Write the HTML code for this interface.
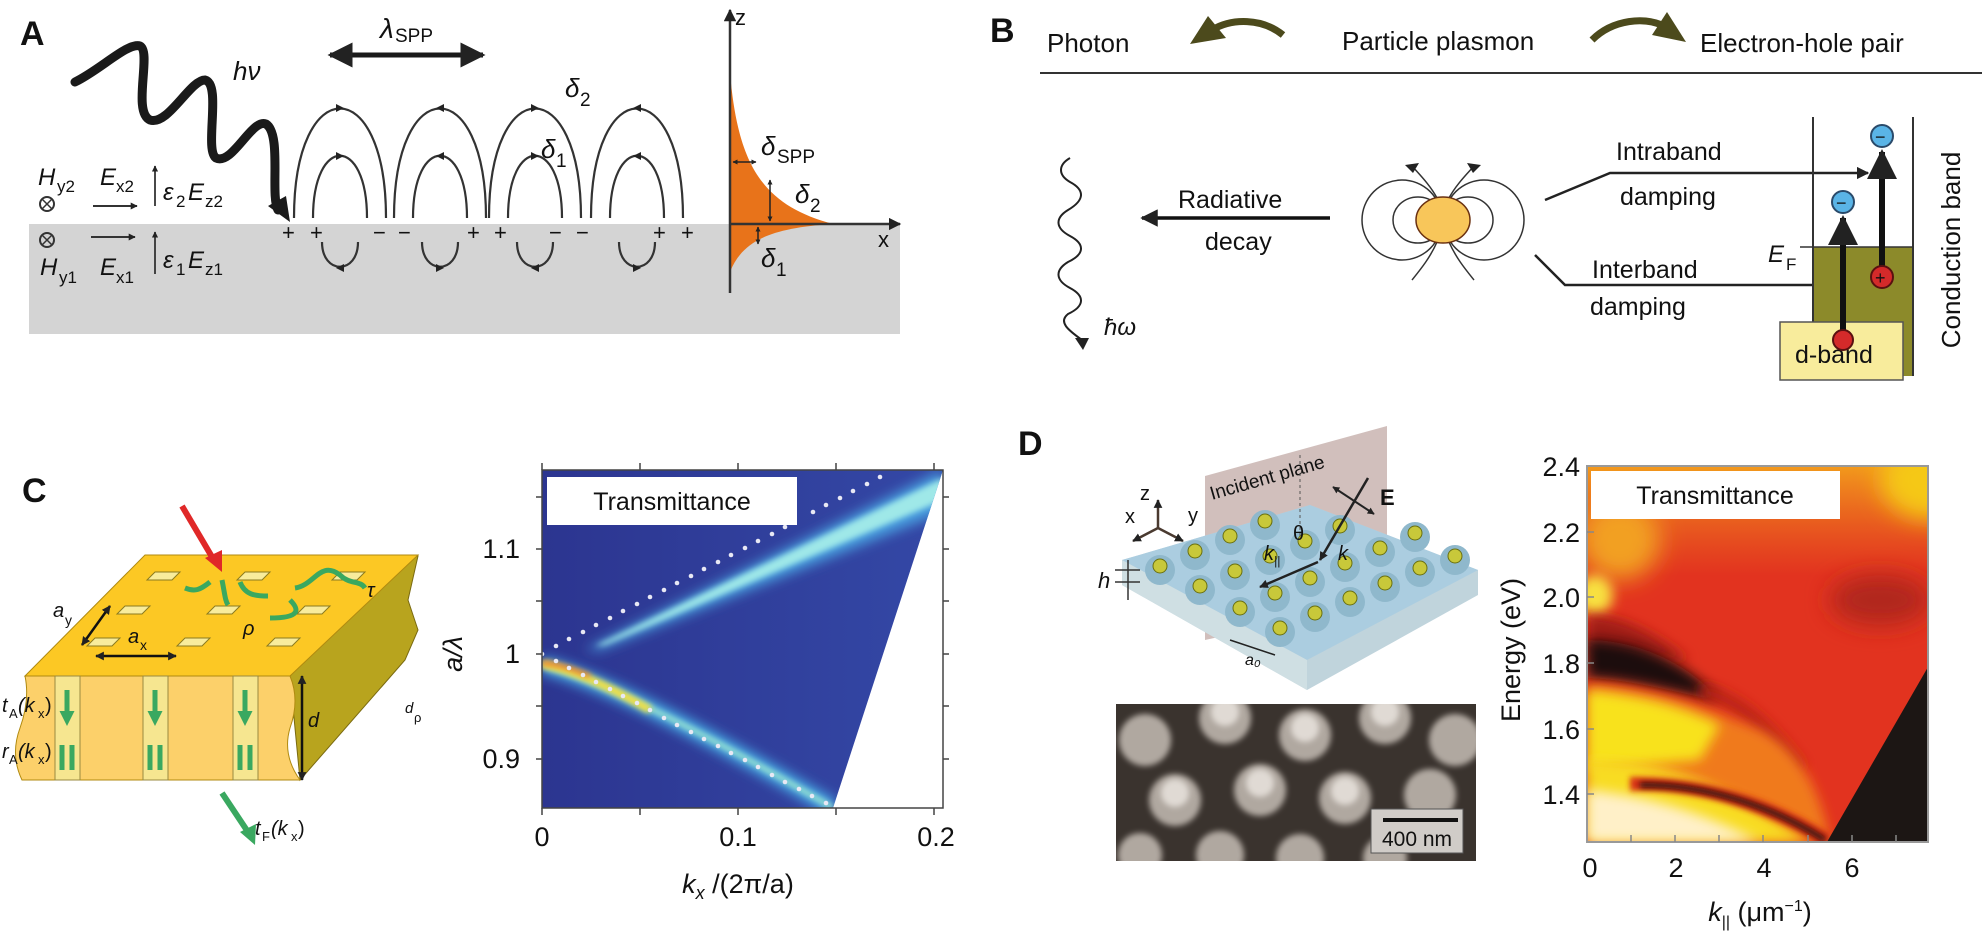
<!DOCTYPE html>
<html><head><meta charset="utf-8"><style>
html,body{margin:0;padding:0;background:#fff}
svg{display:block}
text{font-family:"Liberation Sans",sans-serif;fill:#111}
.it{font-style:italic}
</style></head><body>
<svg width="1985" height="937" viewBox="0 0 1985 937" xmlns="http://www.w3.org/2000/svg">
<defs>
<marker id="ah" viewBox="0 0 10 10" refX="9" refY="5" markerWidth="5" markerHeight="5" orient="auto-start-reverse"><path d="M0,0L10,5L0,10z" fill="#222"/></marker>
<marker id="ahs" viewBox="0 0 10 10" refX="9" refY="5" markerWidth="3.5" markerHeight="3.5" orient="auto-start-reverse"><path d="M0,0L10,5L0,10z" fill="#222"/></marker>
<marker id="ahg" viewBox="0 0 10 10" refX="6" refY="5" markerWidth="3" markerHeight="3" orient="auto"><path d="M0,0L10,5L0,10z" fill="#3aa860"/></marker>
<filter id="b3" x="-50%" y="-50%" width="200%" height="200%"><feGaussianBlur stdDeviation="3"/></filter>
<filter id="b6" x="-50%" y="-50%" width="200%" height="200%"><feGaussianBlur stdDeviation="6"/></filter>
<filter id="b12" x="-100%" y="-100%" width="300%" height="300%"><feGaussianBlur stdDeviation="12"/></filter>
<clipPath id="cc"><polygon points="542,470 943,470 833,808 542,808"/></clipPath>
<clipPath id="cd"><rect x="1587" y="466" width="341" height="376"/></clipPath>
<clipPath id="csem"><rect x="1116" y="704" width="360" height="157"/></clipPath>
<linearGradient id="cbg" x1="0" y1="0" x2="1" y2="0"><stop offset="0" stop-color="#2c3590"/><stop offset="1" stop-color="#3448a6"/></linearGradient>
<linearGradient id="dtop" x1="0" y1="0" x2="0" y2="1"><stop offset="0" stop-color="#f29a1c"/><stop offset="1" stop-color="#ee7a20" stop-opacity="0"/></linearGradient>
</defs>

<!-- ===== Panel A ===== -->
<text x="20" y="45" font-size="34" font-weight="bold">A</text>
<rect x="29" y="224" width="871" height="110" fill="#d4d4d4"/>
<path d="M75,82 C100,70 128,42 140,46 C152,52 132,112 150,120 C168,126 190,80 205,80 C222,84 204,150 216,158 C232,166 252,118 266,124 C282,134 270,195 278,210" fill="none" stroke="#1a1a1a" stroke-width="9" stroke-linecap="round"/>
<path d="M268,206 L290,222 L286,196 z" fill="#1a1a1a"/>
<text x="233" y="80" font-size="26" class="it">hν</text>
<text x="380" y="38" font-size="28" class="it">λ</text><text x="395" y="42" font-size="19">SPP</text>
<line x1="330" y1="55" x2="483" y2="55" stroke="#1a1a1a" stroke-width="5" marker-start="url(#ah)" marker-end="url(#ah)"/>
<g fill="none" stroke="#333" stroke-width="2.2">
<path d="M294,218 C294,72 386,72 386,218"/><path d="M313,218 C313,135 367,135 367,218"/><path d="M322,242 C322,275 358,275 358,242"/>
<path d="M394,218 C394,72 486,72 486,218"/><path d="M413,218 C413,135 467,135 467,218"/><path d="M422,242 C422,275 458,275 458,242"/>
<path d="M489,218 C489,72 581,72 581,218"/><path d="M508,218 C508,135 562,135 562,218"/><path d="M517,242 C517,275 553,275 553,242"/>
<path d="M591,218 C591,72 683,72 683,218"/><path d="M610,218 C610,135 664,135 664,218"/><path d="M619,242 C619,275 655,275 655,242"/>
</g>
<g fill="#222">
<path d="M336,104 l8,4 l-8,4z"/><path d="M336,152 l8,4 l-8,4z"/><path d="M344,264 l-8,4 l8,4z"/>
<path d="M444,104 l-8,4 l8,4z"/><path d="M444,152 l-8,4 l8,4z"/><path d="M436,264 l8,4 l-8,4z"/>
<path d="M531,104 l8,4 l-8,4z"/><path d="M531,152 l8,4 l-8,4z"/><path d="M539,264 l-8,4 l8,4z"/>
<path d="M641,104 l-8,4 l8,4z"/><path d="M641,152 l-8,4 l8,4z"/><path d="M633,264 l8,4 l-8,4z"/>
</g>
<g font-size="22"><text x="282" y="240">+</text><text x="310" y="240">+</text><text x="373" y="240">−</text><text x="398" y="240">−</text><text x="467" y="240">+</text><text x="494" y="240">+</text><text x="549" y="240">−</text><text x="576" y="240">−</text><text x="653" y="240">+</text><text x="681" y="240">+</text></g>
<text x="565" y="97" font-size="26" class="it">δ</text><text x="580" y="106" font-size="19">2</text>
<text x="541" y="158" font-size="26" class="it">δ</text><text x="556" y="167" font-size="19">1</text>
<path d="M730,73 C738,165 762,205 833,224 C768,228 742,242 730,272 Z" fill="#e8731a"/>
<line x1="730" y1="293" x2="730" y2="10" stroke="#333" stroke-width="2.5" marker-end="url(#ah)"/>
<line x1="730" y1="224" x2="900" y2="224" stroke="#333" stroke-width="2.5" marker-end="url(#ah)"/>
<text x="735" y="25" font-size="22">z</text>
<text x="878" y="247" font-size="22">x</text>
<line x1="733" y1="162" x2="756" y2="162" stroke="#222" stroke-width="1.5" marker-start="url(#ahs)" marker-end="url(#ahs)"/>
<line x1="770" y1="180" x2="770" y2="221" stroke="#222" stroke-width="1.5" marker-start="url(#ahs)" marker-end="url(#ahs)"/>
<line x1="758" y1="227" x2="758" y2="244" stroke="#222" stroke-width="1.5" marker-start="url(#ahs)" marker-end="url(#ahs)"/>
<text x="761" y="155" font-size="26" class="it">δ</text><text x="777" y="163" font-size="19">SPP</text>
<text x="795" y="203" font-size="26" class="it">δ</text><text x="810" y="212" font-size="19">2</text>
<text x="761" y="267" font-size="26" class="it">δ</text><text x="776" y="276" font-size="19">1</text>
<text x="38" y="185" font-size="24" class="it">H</text><text x="57" y="192" font-size="17">y2</text>
<circle cx="47" cy="204" r="7" fill="none" stroke="#333" stroke-width="2"/><path d="M42,199l10,10M52,199l-10,10" stroke="#333" stroke-width="1.5"/>
<circle cx="47" cy="240" r="7" fill="none" stroke="#333" stroke-width="2"/><path d="M42,235l10,10M52,235l-10,10" stroke="#333" stroke-width="1.5"/>
<text x="40" y="275" font-size="24" class="it">H</text><text x="59" y="283" font-size="17">y1</text>
<text x="100" y="185" font-size="24" class="it">E</text><text x="116" y="192" font-size="17">x2</text>
<text x="100" y="275" font-size="24" class="it">E</text><text x="116" y="283" font-size="17">x1</text>
<line x1="93" y1="206" x2="137" y2="206" stroke="#333" stroke-width="2" marker-end="url(#ahs)"/>
<line x1="91" y1="237" x2="135" y2="237" stroke="#333" stroke-width="2" marker-end="url(#ahs)"/>
<line x1="155" y1="206" x2="155" y2="166" stroke="#333" stroke-width="1.8" marker-end="url(#ahs)"/>
<line x1="155" y1="274" x2="155" y2="232" stroke="#333" stroke-width="1.8" marker-end="url(#ahs)"/>
<text x="163" y="200" font-size="24" class="it">ε</text><text x="176" y="207" font-size="17">2</text><text x="188" y="200" font-size="24" class="it">E</text><text x="205" y="207" font-size="17">z2</text>
<text x="163" y="268" font-size="24" class="it">ε</text><text x="176" y="275" font-size="17">1</text><text x="188" y="268" font-size="24" class="it">E</text><text x="205" y="275" font-size="17">z1</text>

<!-- ===== Panel B ===== -->
<text x="990" y="42" font-size="34" font-weight="bold">B</text>
<text x="1047" y="52" font-size="26">Photon</text>
<text x="1342" y="50" font-size="26">Particle plasmon</text>
<text x="1700" y="52" font-size="26">Electron-hole pair</text>
<line x1="1040" y1="73" x2="1982" y2="73" stroke="#333" stroke-width="2"/>
<path d="M1283,35 C1262,18 1232,18 1212,30" fill="none" stroke="#4c4a1c" stroke-width="7"/><path d="M1190,44 L1208,16 L1226,38 z" fill="#4c4a1c"/>
<path d="M1592,40 C1612,20 1645,15 1668,28" fill="none" stroke="#4c4a1c" stroke-width="7"/><path d="M1686,42 L1667,12 L1652,35 z" fill="#4c4a1c"/>
<path d="M1070,158 C1058,165 1058,175 1070,182 C1085,190 1085,200 1068,210 C1055,218 1055,228 1070,236 C1085,244 1085,254 1068,262 C1055,270 1055,280 1070,288 C1085,296 1085,306 1068,314 C1058,322 1068,330 1082,340" fill="none" stroke="#222" stroke-width="2"/>
<path d="M1075,338 l14,0 l-6,12z" fill="#222"/>
<text x="1104" y="335" font-size="24" class="it">ħω</text>
<line x1="1330" y1="218" x2="1142" y2="218" stroke="#111" stroke-width="3.5" marker-end="url(#ah)"/>
<text x="1178" y="208" font-size="25">Radiative</text>
<text x="1205" y="250" font-size="25">decay</text>
<g fill="none" stroke="#333" stroke-width="1.5">
<ellipse cx="1402" cy="220" rx="40" ry="40"/><ellipse cx="1484" cy="220" rx="40" ry="40"/>
<ellipse cx="1418" cy="220" rx="25" ry="23"/><ellipse cx="1468" cy="220" rx="25" ry="23"/>
<path d="M1437,198 C1430,185 1420,175 1412,166"/><path d="M1449,198 C1456,185 1466,175 1474,166"/>
<path d="M1437,242 C1430,258 1420,270 1412,280"/><path d="M1449,242 C1456,258 1466,270 1474,280"/>
</g>
<path d="M1405,165 l14,-2 l-6,10z" fill="#222"/><path d="M1481,165 l-14,-2 l6,10z" fill="#222"/>
<ellipse cx="1443" cy="220" rx="27" ry="23" fill="#f8c65a" stroke="#6a3010" stroke-width="1.5"/>
<path d="M1545,200 L1610,173 L1868,173" fill="none" stroke="#222" stroke-width="2.5" marker-end="url(#ah)"/>
<path d="M1535,255 L1565,285 L1823,285" fill="none" stroke="#222" stroke-width="2.5" marker-end="url(#ah)"/>
<text x="1616" y="160" font-size="25">Intraband</text>
<text x="1620" y="205" font-size="25">damping</text>
<text x="1592" y="278" font-size="25">Interband</text>
<text x="1590" y="315" font-size="25">damping</text>
<rect x="1813" y="247" width="100" height="129" fill="#8c8a2a"/>
<line x1="1813" y1="117" x2="1813" y2="376" stroke="#333" stroke-width="2"/>
<line x1="1913" y1="117" x2="1913" y2="376" stroke="#333" stroke-width="2"/>
<line x1="1800" y1="247" x2="1913" y2="247" stroke="#333" stroke-width="1.5"/>
<text x="1768" y="262" font-size="24" class="it">E</text><text x="1786" y="270" font-size="17">F</text>
<rect x="1780" y="322" width="123" height="58" fill="#f8ec9c" stroke="#555" stroke-width="1.5"/>
<text x="1795" y="363" font-size="25">d-band</text>
<line x1="1843" y1="345" x2="1843" y2="218" stroke="#111" stroke-width="6" marker-end="url(#ah)"/>
<line x1="1882" y1="277" x2="1882" y2="152" stroke="#111" stroke-width="6" marker-end="url(#ah)"/>
<circle cx="1882" cy="136" r="11" fill="#5ab4e6" stroke="#2a4a6a" stroke-width="2"/><text x="1875" y="143" font-size="18">−</text>
<circle cx="1843" cy="202" r="11" fill="#5ab4e6" stroke="#2a4a6a" stroke-width="2"/><text x="1836" y="209" font-size="18">−</text>
<circle cx="1882" cy="277" r="11" fill="#d42a2a" stroke="#5a1010" stroke-width="2"/><text x="1875" y="284" font-size="18">+</text>
<circle cx="1843" cy="340" r="10" fill="#d42a2a" stroke="#5a1010" stroke-width="2"/>
<text transform="translate(1960,250) rotate(-90)" font-size="26" text-anchor="middle">Conduction band</text>

<!-- ===== Panel C ===== -->
<text x="22" y="502" font-size="34" font-weight="bold">C</text>
<polygon points="290,676 400,556 418,556 408,600 418,630 405,660 300,780" fill="#b8a41e" stroke="#7a6a10" stroke-width="1"/>
<polygon points="25,676 145,555 418,555 290,676" fill="#fcc824" stroke="#b08a10" stroke-width="1"/>
<path d="M25,676 L290,676 Q300,700 290,728 Q282,755 300,780 L22,780 Q10,755 20,728 Q30,700 25,676 Z" fill="#fcd06a" stroke="#b08a10" stroke-width="1"/>
<g fill="#f6e690" stroke="#9a8a40" stroke-width="1"><rect x="55" y="676" width="25" height="104"/><rect x="143" y="676" width="25" height="104"/><rect x="233" y="676" width="25" height="104"/></g>
<g stroke="#3aa860" stroke-width="5" fill="none"><path d="M67,690 V720" marker-end="url(#ahg)"/><path d="M155,690 V720" marker-end="url(#ahg)"/><path d="M245,690 V720" marker-end="url(#ahg)"/>
<path d="M62,770 V745 M72,745 V770"/><path d="M150,770 V745 M160,745 V770"/><path d="M240,770 V745 M250,745 V770"/></g>
<g fill="#f8ec9c" stroke="#8a7a20" stroke-width="1"><polygon points="155,572 180,572 172,580 147,580"/><polygon points="245,572 270,572 262,580 237,580"/><polygon points="340,572 365,572 357,580 332,580"/><polygon points="125,606 150,606 142,614 117,614"/><polygon points="215,606 240,606 232,614 207,614"/><polygon points="305,606 330,606 322,614 297,614"/><polygon points="95,638 120,638 112,646 87,646"/><polygon points="185,638 210,638 202,646 177,646"/><polygon points="275,638 300,638 292,646 267,646"/></g>
<g stroke="#3aa860" stroke-width="5" fill="none"><path d="M222,580 C225,595 225,600 228,605"/><path d="M210,582 C200,590 195,592 185,588"/><path d="M240,582 C245,595 255,596 268,596"/><path d="M295,588 C315,585 320,560 340,575 C350,585 360,580 365,588"/><path d="M290,600 C300,610 300,618 270,618"/></g>
<line x1="182" y1="506" x2="215" y2="562" stroke="#e02828" stroke-width="6"/>
<path d="M205,558 L222,572 L222,550 z" fill="#e02828"/>
<line x1="222" y1="793" x2="250" y2="835" stroke="#3aa860" stroke-width="6"/><path d="M240,832 L255,845 L256,824 z" fill="#3aa860"/>
<line x1="82" y1="645" x2="110" y2="606" stroke="#111" stroke-width="2.5" marker-start="url(#ahs)" marker-end="url(#ahs)"/>
<line x1="96" y1="656" x2="176" y2="656" stroke="#111" stroke-width="2.5" marker-start="url(#ahs)" marker-end="url(#ahs)"/>
<line x1="302" y1="676" x2="302" y2="780" stroke="#111" stroke-width="2.5" marker-start="url(#ahs)" marker-end="url(#ahs)"/>
<g fill="#444" font-size="20">
<text x="53" y="617" class="it">a</text><text x="65" y="625" font-size="14">y</text>
<text x="128" y="643" class="it">a</text><text x="140" y="650" font-size="14">x</text>
<text x="243" y="635" class="it">ρ</text><text x="367" y="597" class="it">τ</text>
<text x="308" y="727" class="it">d</text>
<text x="2" y="712" class="it">t</text><text x="9" y="718" font-size="13">A</text><text x="18" y="712" class="it">(k</text><text x="38" y="718" font-size="13">x</text><text x="45" y="712">)</text>
<text x="2" y="758" class="it">r</text><text x="9" y="764" font-size="13">A</text><text x="18" y="758" class="it">(k</text><text x="38" y="764" font-size="13">x</text><text x="45" y="758">)</text>
<text x="255" y="835" class="it">t</text><text x="262" y="841" font-size="13">F</text><text x="271" y="835" class="it">(k</text><text x="291" y="841" font-size="13">x</text><text x="298" y="835">)</text>
<text x="405" y="713" font-size="15" class="it">d</text><text x="414" y="722" font-size="13">ρ</text>
</g>
<!-- C plot -->
<g clip-path="url(#cc)">
<rect x="542" y="470" width="401" height="338" fill="url(#cbg)"/>
<polygon points="585,650 943,470 943,512 600,650" fill="#4aa0e0" filter="url(#b6)"/>
<polygon points="595,646 943,478 943,500 605,645" fill="#9fe8e8" filter="url(#b3)"/>
<path d="M542,665 C600,680 700,730 833,808" fill="none" stroke="#4ab0ea" stroke-width="16" filter="url(#b6)"/>
<path d="M542,665 C600,680 700,730 833,808" fill="none" stroke="#9ee8d0" stroke-width="5" filter="url(#b3)"/>
<path d="M542,664 C580,672 615,690 650,710" fill="none" stroke="#f4e040" stroke-width="8" filter="url(#b3)"/>
<path d="M542,663 C560,664 575,670 590,676" fill="none" stroke="#f07020" stroke-width="4" filter="url(#b3)"/>
</g>
<g fill="#e8e8f4">
<circle cx="556" cy="646" r="2.3"/><circle cx="569" cy="639" r="2.3"/><circle cx="583" cy="632" r="2.3"/><circle cx="596" cy="625" r="2.3"/><circle cx="610" cy="618" r="2.3"/><circle cx="623" cy="611" r="2.3"/><circle cx="637" cy="604" r="2.3"/><circle cx="650" cy="597" r="2.3"/><circle cx="664" cy="590" r="2.3"/><circle cx="677" cy="583" r="2.3"/><circle cx="691" cy="576" r="2.3"/><circle cx="704" cy="569" r="2.3"/><circle cx="718" cy="562" r="2.3"/><circle cx="731" cy="555" r="2.3"/><circle cx="745" cy="548" r="2.3"/><circle cx="758" cy="541" r="2.3"/><circle cx="772" cy="534" r="2.3"/><circle cx="785" cy="527" r="2.3"/><circle cx="813" cy="512" r="2.3"/><circle cx="826" cy="505" r="2.3"/><circle cx="840" cy="498" r="2.3"/><circle cx="853" cy="491" r="2.3"/><circle cx="867" cy="484" r="2.3"/><circle cx="880" cy="477" r="2.3"/>
<circle cx="542" cy="654" r="2.3"/>
<circle cx="556" cy="661" r="2.3"/><circle cx="569" cy="668" r="2.3"/><circle cx="583" cy="675" r="2.3"/><circle cx="596" cy="682" r="2.3"/><circle cx="610" cy="689" r="2.3"/><circle cx="623" cy="696" r="2.3"/><circle cx="637" cy="703" r="2.3"/><circle cx="650" cy="710" r="2.3"/><circle cx="664" cy="718" r="2.3"/><circle cx="677" cy="725" r="2.3"/><circle cx="691" cy="732" r="2.3"/><circle cx="704" cy="739" r="2.3"/><circle cx="718" cy="746" r="2.3"/><circle cx="731" cy="753" r="2.3"/><circle cx="745" cy="760" r="2.3"/><circle cx="758" cy="767" r="2.3"/><circle cx="772" cy="775" r="2.3"/><circle cx="785" cy="782" r="2.3"/><circle cx="799" cy="789" r="2.3"/><circle cx="812" cy="796" r="2.3"/><circle cx="826" cy="803" r="2.3"/>
</g>
<rect x="547" y="477" width="250" height="48" fill="#fff"/>
<text x="672" y="510" font-size="25" text-anchor="middle">Transmittance</text>
<rect x="542" y="470" width="401" height="338" fill="none" stroke="#444" stroke-width="1.5"/>
<g stroke="#444" stroke-width="1.5">
<path d="M536,497H542M536,549H542M536,601H542M536,654H542M536,706H542M536,759H542"/>
<path d="M943,497H949M943,549H949M943,601H949M943,654H949M943,706H949M943,759H949"/>
<path d="M542,808V815M640,808V815M738,808V815M836,808V815M934,808V815"/>
<path d="M542,470V463M640,470V463M738,470V463M836,470V463M934,470V463"/>
</g>
<g font-size="27" text-anchor="end"><text x="520" y="558">1.1</text><text x="520" y="663">1</text><text x="520" y="768">0.9</text></g>
<g font-size="27" text-anchor="middle"><text x="542" y="846">0</text><text x="738" y="846">0.1</text><text x="936" y="846">0.2</text></g>
<text x="738" y="893" font-size="27" text-anchor="middle"><tspan class="it">k</tspan><tspan font-size="18" dy="6" class="it">x</tspan><tspan dy="-6"> /(2π/a)</tspan></text>
<text transform="translate(462,654) rotate(-90)" font-size="27" text-anchor="middle" class="it">a/λ</text>

<!-- ===== Panel D ===== -->
<text x="1018" y="455" font-size="34" font-weight="bold">D</text>
<polygon points="1205,476 1387,426 1387,600 1205,640" fill="#c9b4b0" opacity="0.85"/>
<text transform="translate(1212,500) rotate(-16)" font-size="19" fill="#333">Incident plane</text>
<polygon points="1122,560 1310,505 1478,570 1478,595 1307,690 1122,585" fill="#c0d4dc"/>
<polygon points="1122,560 1310,505 1478,570 1307,660" fill="#a8cce0" opacity="0.9"/>
<polygon points="1122,560 1307,660 1307,690 1122,585" fill="#cfdfe3"/>
<g fill="#8fb8cc"><circle cx="1160" cy="570" r="15"/><circle cx="1200" cy="590" r="15"/><circle cx="1240" cy="612" r="15"/><circle cx="1280" cy="632" r="15"/><circle cx="1195" cy="555" r="15"/><circle cx="1235" cy="575" r="15"/><circle cx="1275" cy="597" r="15"/><circle cx="1315" cy="617" r="15"/><circle cx="1230" cy="540" r="15"/><circle cx="1270" cy="560" r="15"/><circle cx="1310" cy="582" r="15"/><circle cx="1350" cy="602" r="15"/><circle cx="1265" cy="525" r="15"/><circle cx="1305" cy="545" r="15"/><circle cx="1345" cy="567" r="15"/><circle cx="1385" cy="587" r="15"/><circle cx="1340" cy="530" r="15"/><circle cx="1380" cy="552" r="15"/><circle cx="1420" cy="572" r="15"/><circle cx="1415" cy="537" r="15"/><circle cx="1455" cy="560" r="15"/></g>
<g fill="#c8c83a" stroke="#6a7010" stroke-width="1"><circle cx="1160" cy="566" r="7"/><circle cx="1200" cy="586" r="7"/><circle cx="1240" cy="608" r="7"/><circle cx="1280" cy="628" r="7"/><circle cx="1195" cy="551" r="7"/><circle cx="1235" cy="571" r="7"/><circle cx="1275" cy="593" r="7"/><circle cx="1315" cy="613" r="7"/><circle cx="1230" cy="536" r="7"/><circle cx="1270" cy="556" r="7"/><circle cx="1310" cy="578" r="7"/><circle cx="1350" cy="598" r="7"/><circle cx="1265" cy="521" r="7"/><circle cx="1305" cy="541" r="7"/><circle cx="1345" cy="563" r="7"/><circle cx="1385" cy="583" r="7"/><circle cx="1340" cy="526" r="7"/><circle cx="1380" cy="548" r="7"/><circle cx="1420" cy="568" r="7"/><circle cx="1415" cy="533" r="7"/><circle cx="1455" cy="556" r="7"/></g>
<line x1="1300" y1="455" x2="1300" y2="540" stroke="#555" stroke-width="1" stroke-dasharray="3,3"/>
<line x1="1368" y1="478" x2="1320" y2="560" stroke="#222" stroke-width="2.5" marker-end="url(#ahs)"/>
<line x1="1318" y1="562" x2="1260" y2="587" stroke="#222" stroke-width="2.5" marker-end="url(#ahs)"/>
<line x1="1333" y1="487" x2="1374" y2="514" stroke="#222" stroke-width="2" marker-start="url(#ahs)" marker-end="url(#ahs)"/>
<text x="1380" y="505" font-size="22" font-weight="bold">E</text>
<text x="1293" y="540" font-size="20" fill="#333">θ</text>
<text x="1264" y="560" font-size="20" class="it" fill="#222">k<tspan font-size="12" dy="5">||</tspan></text>
<text x="1338" y="560" font-size="20" class="it" fill="#222">k</text>
<text x="1245" y="665" font-size="16" class="it" fill="#555">a₀</text>
<line x1="1230" y1="640" x2="1275" y2="655" stroke="#222" stroke-width="1.5"/>
<g stroke="#4a3a30" stroke-width="2.5"><line x1="1158" y1="528" x2="1158" y2="500" marker-end="url(#ahs)"/><line x1="1158" y1="528" x2="1133" y2="541" marker-end="url(#ahs)"/><line x1="1158" y1="528" x2="1183" y2="541" marker-end="url(#ahs)"/></g>
<text x="1140" y="500" font-size="20">z</text><text x="1125" y="523" font-size="20">x</text><text x="1188" y="522" font-size="20">y</text>
<text x="1098" y="588" font-size="22" class="it">h</text>
<path d="M1115,570 H1140 M1115,582 H1140 M1128,560 V600" stroke="#333" stroke-width="1.5"/>
<!-- SEM -->
<rect x="1116" y="704" width="360" height="157" fill="#3a332e"/>
<g clip-path="url(#csem)">
<g fill="#b0a8a0" filter="url(#b3)">
<circle cx="1145" cy="740" r="26"/><circle cx="1225" cy="718" r="26"/><circle cx="1305" cy="735" r="26"/><circle cx="1385" cy="718" r="26"/><circle cx="1455" cy="740" r="26"/>
<circle cx="1175" cy="800" r="26"/><circle cx="1260" cy="790" r="26"/><circle cx="1345" cy="798" r="26"/><circle cx="1430" cy="795" r="26"/>
<circle cx="1140" cy="855" r="22"/><circle cx="1220" cy="855" r="24"/><circle cx="1300" cy="858" r="24"/><circle cx="1385" cy="858" r="22"/>
</g>
<g fill="#e0dad4" filter="url(#b3)"><circle cx="1225" cy="712" r="14"/><circle cx="1305" cy="728" r="14"/><circle cx="1385" cy="712" r="14"/><circle cx="1175" cy="793" r="14"/><circle cx="1260" cy="783" r="14"/><circle cx="1345" cy="791" r="14"/></g>
</g>
<rect x="1371" y="809" width="92" height="44" fill="#d0ccc8" stroke="#555" stroke-width="1"/>
<line x1="1383" y1="820" x2="1458" y2="820" stroke="#111" stroke-width="4"/>
<text x="1417" y="846" font-size="21" text-anchor="middle">400 nm</text>

<!-- D plot -->
<g clip-path="url(#cd)">
<rect x="1587" y="466" width="341" height="376" fill="#e2331f"/>
<rect x="1587" y="466" width="341" height="110" fill="url(#dtop)"/>
<ellipse cx="1930" cy="480" rx="50" ry="40" fill="#f5c818" filter="url(#b12)"/>
<ellipse cx="1620" cy="540" rx="40" ry="40" fill="#f2a020" filter="url(#b12)"/>
<ellipse cx="1595" cy="595" rx="18" ry="20" fill="#f8e040" filter="url(#b6)"/>
<ellipse cx="1880" cy="600" rx="50" ry="25" fill="#b0281c" filter="url(#b12)"/>
<path d="M1587,615 C1620,615 1650,630 1690,660 L1587,650 Z" fill="#a01c14" filter="url(#b6)"/>
<path d="M1587,640 C1640,640 1690,665 1720,700 C1680,695 1640,680 1587,678 Z" fill="#1a0e0c" filter="url(#b6)"/>
<path d="M1700,690 C1740,700 1770,730 1800,770" fill="none" stroke="#b82418" stroke-width="14" filter="url(#b6)"/>
<path d="M1587,685 C1650,690 1700,705 1760,730 C1800,750 1820,790 1830,842 L1587,842 Z" fill="#f07a1e" filter="url(#b6)"/>
<path d="M1587,690 C1640,695 1680,705 1720,725 L1700,760 L1587,770 Z" fill="#f8e21a" filter="url(#b6)"/>
<path d="M1587,760 C1640,760 1680,770 1720,790 C1760,810 1790,830 1810,842 L1587,842 Z" fill="#f8dc20" filter="url(#b6)"/>
<path d="M1587,790 C1640,795 1700,810 1760,842 L1587,842 Z" fill="#fff0c8" filter="url(#b6)"/>
<path d="M1630,784 C1700,782 1770,805 1827,840" fill="none" stroke="#d83018" stroke-width="14" filter="url(#b3)"/>
<path d="M1640,785 C1705,784 1772,806 1825,840" fill="none" stroke="#1a0e0c" stroke-width="5" filter="url(#b3)"/>
<polygon points="1827,842 1928,667 1928,842" fill="#1c1614"/>
</g>
<rect x="1591" y="471" width="249" height="48" fill="#fff"/>
<text x="1715" y="504" font-size="25" text-anchor="middle">Transmittance</text>
<rect x="1587" y="466" width="341" height="376" fill="none" stroke="#999" stroke-width="2"/>
<g stroke="#888" stroke-width="1.5"><path d="M1631,842V835M1675,842V835M1719,842V835M1763,842V835M1808,842V835M1852,842V835M1896,842V835"/><path d="M1587,532H1594M1587,597H1594M1587,663H1594M1587,729H1594M1587,794H1594"/></g>
<g font-size="27" text-anchor="end"><text x="1580" y="476">2.4</text><text x="1580" y="542">2.2</text><text x="1580" y="607">2.0</text><text x="1580" y="673">1.8</text><text x="1580" y="739">1.6</text><text x="1580" y="804">1.4</text></g>
<g font-size="27" text-anchor="middle"><text x="1590" y="877">0</text><text x="1676" y="877">2</text><text x="1764" y="877">4</text><text x="1852" y="877">6</text></g>
<text x="1760" y="921" font-size="27" text-anchor="middle"><tspan class="it">k</tspan><tspan font-size="16" dy="6">||</tspan><tspan dy="-6"> (μm</tspan><tspan font-size="16" dy="-10">−1</tspan><tspan dy="10">)</tspan></text>
<text transform="translate(1520,650) rotate(-90)" font-size="27" text-anchor="middle">Energy (eV)</text>
</svg>
</body></html>
